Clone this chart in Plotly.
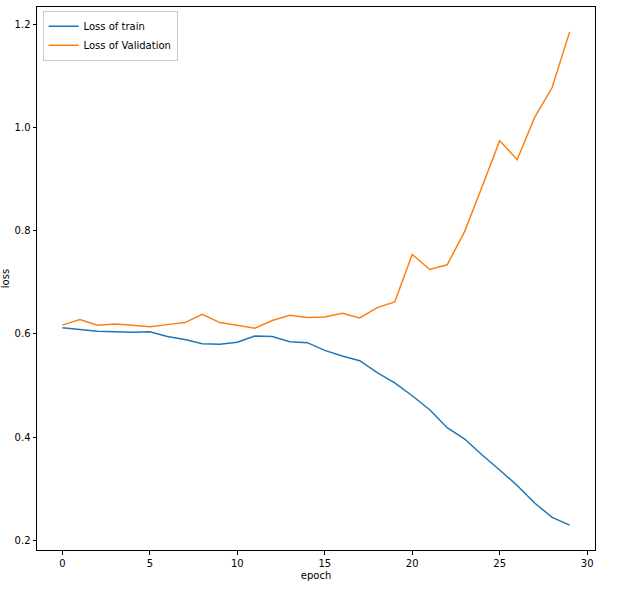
import plotly.graph_objects as go

epochs = list(range(30))
train_loss = [0.612, 0.609, 0.605, 0.604, 0.603, 0.604, 0.595, 0.589, 0.581, 0.580,
              0.584, 0.596, 0.595, 0.585, 0.583, 0.568, 0.557, 0.548, 0.525, 0.505,
              0.480, 0.453, 0.418, 0.396, 0.365, 0.336, 0.306, 0.272, 0.244, 0.229]
val_loss = [0.617, 0.628, 0.617, 0.619, 0.617, 0.614, 0.618, 0.622, 0.638, 0.622,
            0.617, 0.611, 0.626, 0.636, 0.632, 0.633, 0.640, 0.631, 0.651, 0.662,
            0.754, 0.725, 0.734, 0.799, 0.886, 0.975, 0.938, 1.020, 1.078, 1.186]
x_ticks = [0, 5, 10, 15, 20, 25, 30]
y_ticks = [0.2, 0.4, 0.6, 0.8, 1.0, 1.2]

FONT = "DejaVu Sans"

fig = go.Figure()
fig.add_trace(go.Scatter(x=epochs, y=train_loss, mode="lines", name="Loss of train",
                         line=dict(color="#1f77b4", width=1.5)))
fig.add_trace(go.Scatter(x=epochs, y=val_loss, mode="lines", name="Loss of Validation",
                         line=dict(color="#ff7f0e", width=1.5)))

axis_common = dict(showline=True, linecolor="black", linewidth=1, mirror=True,
                   ticks="outside", ticklen=3.5, tickwidth=1, tickcolor="black",
                   showgrid=False, zeroline=False, automargin=False,
                   tickfont=dict(family=FONT, size=10, color="black"))

fig.update_layout(
    width=618, height=591,
    margin=dict(l=37, r=23, t=7, b=41),
    paper_bgcolor="white", plot_bgcolor="white",
    font=dict(family=FONT, size=10, color="black"),
    xaxis=dict(range=[-1.45, 30.45], tickvals=x_ticks,
               title=dict(text="epoch", font=dict(family=FONT, size=10), standoff=4),
               **axis_common),
    yaxis=dict(range=[0.1808, 1.2342], tickvals=y_ticks, tickformat=".1f",
               title=dict(text="loss", font=dict(family=FONT, size=10), standoff=4),
               **axis_common),
    legend=dict(x=0.01, y=0.993, xanchor="left", yanchor="top",
                bgcolor="rgba(255,255,255,0.8)", bordercolor="#cccccc", borderwidth=1,
                font=dict(family=FONT, size=10), itemwidth=30, tracegroupgap=0),
    showlegend=True,
)

fig.write_html("out.html", config={"displayModeBar": False},
               post_script="document.body.style.margin='0px';document.body.style.padding='0px';")
